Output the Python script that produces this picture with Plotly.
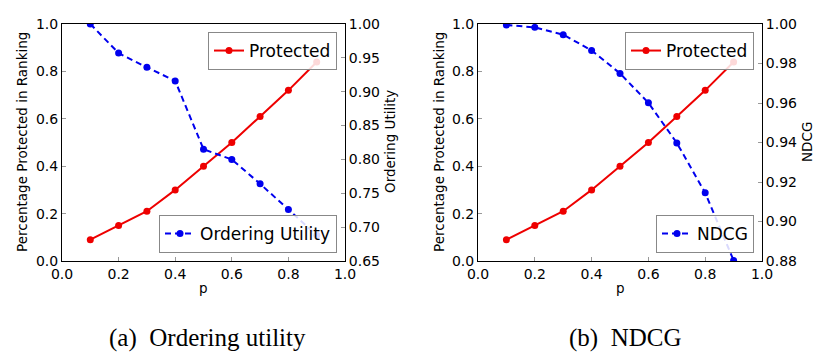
import plotly.graph_objects as go

p = [0.1, 0.2, 0.3, 0.4, 0.5, 0.6, 0.7, 0.8, 0.9]
protected = [0.09, 0.15, 0.21, 0.30, 0.40, 0.50, 0.61, 0.72, 0.84]
ordering_utility = [1.000, 0.957, 0.936, 0.916, 0.815, 0.800, 0.764, 0.726, 0.688]
ndcg = [0.9995, 0.9983, 0.9946, 0.9866, 0.9750, 0.9601, 0.9398, 0.9145, 0.8803]

x_ticks = [0.0, 0.2, 0.4, 0.6, 0.8, 1.0]
left_ticks = [0.0, 0.2, 0.4, 0.6, 0.8, 1.0]
ou_ticks = [0.65, 0.70, 0.75, 0.80, 0.85, 0.90, 0.95, 1.00]
ndcg_ticks = [0.88, 0.90, 0.92, 0.94, 0.96, 0.98, 1.00]

W, H = 831, 353
RED = "#ee0000"
BLUE = "#0000ee"
FONT = "DejaVu Sans"

def px_x(a, b):
    return [a / W, b / W]

def px_y(top, bottom):
    return [(H - bottom) / H, (H - top) / H]

fig = go.Figure()

# Left panel
fig.add_trace(go.Scatter(x=p, y=protected, name="Protected", mode="lines+markers",
                         line=dict(color=RED, width=2), marker=dict(size=7, color=RED),
                         xaxis="x", yaxis="y", legend="legend"))
fig.add_trace(go.Scatter(x=p, y=ordering_utility, name="Ordering Utility", mode="lines+markers",
                         line=dict(color=BLUE, width=2, dash="6px,4px"), marker=dict(size=7, color=BLUE),
                         xaxis="x", yaxis="y2", legend="legend2"))
# Right panel
fig.add_trace(go.Scatter(x=p, y=protected, name="Protected", mode="lines+markers",
                         line=dict(color=RED, width=2), marker=dict(size=7, color=RED),
                         xaxis="x2", yaxis="y3", legend="legend3"))
fig.add_trace(go.Scatter(x=p, y=ndcg, name="NDCG", mode="lines+markers",
                         line=dict(color=BLUE, width=2, dash="6px,4px"), marker=dict(size=7, color=BLUE),
                         xaxis="x2", yaxis="y4", legend="legend4"))

tick_font = dict(family=FONT, size=14, color="black")
title_font = dict(family=FONT, size=13.5, color="black")

common_x = dict(range=[0, 1], tickvals=x_ticks, ticktext=[f"{v:.1f}" for v in x_ticks],
                showgrid=False, zeroline=False, showline=True, linecolor="black", linewidth=1,
                mirror=True, ticks="inside", ticklen=4, tickcolor="#999", tickfont=tick_font,
                automargin=False)
common_yl = dict(range=[0, 1], tickvals=left_ticks, ticktext=[f"{v:.1f}" for v in left_ticks],
                 showgrid=False, zeroline=False, showline=True, linecolor="black", linewidth=1,
                 ticks="inside", ticklen=4, tickcolor="#999", tickfont=tick_font, automargin=False)

yd = px_y(24, 261)
fig.update_layout(
    width=W, height=H, margin=dict(l=0, r=0, t=0, b=0),
    paper_bgcolor="white", plot_bgcolor="white",
    xaxis=dict(domain=px_x(62, 345), anchor="y", **common_x),
    yaxis=dict(domain=yd, anchor="x", **common_yl),
    yaxis2=dict(overlaying="y", side="right", anchor="x", range=[0.65, 1.0], tickvals=ou_ticks,
                ticktext=[f"{v:.2f}" for v in ou_ticks], showgrid=False, zeroline=False,
                showline=True, linecolor="black", linewidth=1, ticks="inside", ticklen=4,
                tickcolor="#999", tickfont=tick_font, automargin=False),
    xaxis2=dict(domain=px_x(478, 762), anchor="y3", **common_x),
    yaxis3=dict(domain=yd, anchor="x2", **common_yl),
    yaxis4=dict(overlaying="y3", side="right", anchor="x2", range=[0.88, 1.0], tickvals=ndcg_ticks,
                ticktext=[f"{v:.2f}" for v in ndcg_ticks], showgrid=False, zeroline=False,
                showline=True, linecolor="black", linewidth=1, ticks="inside", ticklen=4,
                tickcolor="#999", tickfont=tick_font, automargin=False),
    showlegend=True,
)

leg_common = dict(bgcolor="rgba(255,255,255,0.85)", bordercolor="#888", borderwidth=1,
                  font=dict(family=FONT, size=17, color="black"), xanchor="right", itemwidth=30)
fig.update_layout(
    legend=dict(x=337 / W, y=(H - 32) / H, yanchor="top", **leg_common),
    legend2=dict(x=337 / W, y=(H - 253) / H, yanchor="bottom", **leg_common),
    legend3=dict(x=754 / W, y=(H - 32) / H, yanchor="top", **leg_common),
    legend4=dict(x=754 / W, y=(H - 253) / H, yanchor="bottom", **leg_common),
)

def label(text, x, y, angle=0, font=title_font):
    fig.add_annotation(text=text, x=x / W, y=(H - y) / H, xref="paper", yref="paper",
                       showarrow=False, font=font, xanchor="center", yanchor="middle",
                       textangle=angle)

label("Percentage Protected in Ranking", 22, 142, -90)
label("Ordering Utility", 390, 142, -90)
label("Percentage Protected in Ranking", 439, 142, -90)
label("NDCG", 807, 142, -90)
label("p", 203, 288)
label("p", 620, 288)

cap_font = dict(family="Liberation Serif", size=25, color="black")
label("(a)  Ordering utility", 207, 338, 0, cap_font)
label("(b)  NDCG", 625, 338, 0, cap_font)

fig.write_html("out.html", config={"displayModeBar": False},
               post_script="document.body.style.margin='0';document.body.style.overflow='hidden';")
